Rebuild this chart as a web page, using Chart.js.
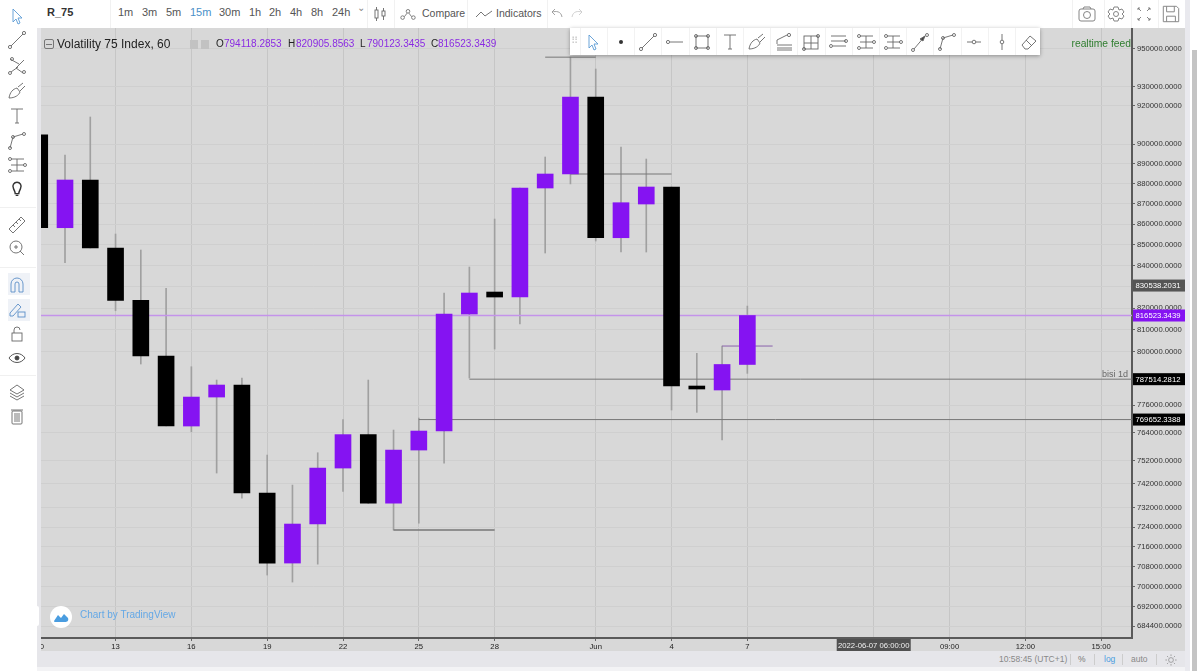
<!DOCTYPE html>
<html>
<head>
<meta charset="utf-8">
<title>R_75</title>
<script src="https://cdn.jsdelivr.net/npm/chart.js@4"></script>
<style>
  html, body { margin: 0; padding: 0; width: 1200px; height: 671px; overflow: hidden; background: #fff; font-family: "Liberation Sans", Arial, sans-serif; }
  .box { position: absolute; }
  .txt { position: absolute; white-space: nowrap; line-height: 1; }
  canvas { position: absolute; left: 41px; top: 28px; }
  svg { position: absolute; overflow: visible; }
</style>
</head>
<body>
<div class="box" style="left:37px;top:0;width:1148px;height:667px;background:#e6e6ea"></div>
<div class="box" style="left:37px;top:667px;width:1148px;height:4px;background:#f3f3f5"></div>
<div class="box" style="left:1185px;top:0;width:5px;height:671px;background:#e9e9ee"></div>
<div class="box" style="left:1192px;top:50px;width:5px;height:621px;background:#c4c4c4"></div>
<div class="box" style="left:37px;top:0;width:1148px;height:28px;background:#fff"></div>
<div class="box" style="left:41px;top:28px;width:1144px;height:623px;background:#d8d8d8"></div>
<canvas id="chart" width="1145" height="623"></canvas>
<div id="chrome"></div>

<script>
// candles, one per day starting 10 May (index 0)
const opens  = [904850, 858280, 881860, 848440, 823600, 797940, 766830, 779560, 784900, 738185, 709400, 725300, 748740, 763100, 734000, 756440, 764650, 817210, 827490, 825140, 877860, 884870, 924441, 853415, 869915, 878360, 784460, 782690, 794118];
const closes = [858280, 881860, 848440, 823600, 797940, 766830, 779560, 784900, 738185, 709400, 725300, 748740, 763100, 734000, 756440, 764650, 817210, 827020, 825140, 877860, 884870, 924441, 853415, 870560, 878360, 784460, 783130, 794118, 816523];
const highs  = [904850, 894470, 914000, 855210, 847470, 829230, 793100, 787130, 788030, 754290, 741545, 755280, 769650, 787130, 765080, 770320, 827020, 839325, 862530, 877860, 893460, 945692, 939267, 898550, 892440, 878360, 799160, 802480, 820905];
const lows   = [858280, 841380, 848440, 818740, 794320, 766830, 764300, 746620, 736090, 704580, 701780, 708960, 738850, 733800, 722830, 725650, 750870, 788030, 801120, 812580, 846030, 879900, 851820, 846510, 846510, 773830, 772815, 760750, 790123];

// price axis and time axis
const priceTicks = [950000, 930000, 920000, 900000, 890000, 880000, 870000, 860000, 850000, 840000, 830000, 820000, 810000, 800000, 776000, 764000, 752000, 742000, 732000, 724000, 716000, 708000, 700000, 692000, 684400];
const timeTicks  = [0, 3, 6, 9, 12, 15, 18, 22, 25, 28, 33, 36, 39, 42];
const timeLabels = ["10", "13", "16", "19", "22", "25", "28", "Jun", "4", "7", "", "09:00", "12:00", "15:00"];

// drawn levels: price, first bar, last bar
const lineLevels = [945600, 884870, 787514.2812, 769652.3388, 722830];
const lineStarts = [20, 21, 17, 15, 14];
const lineEnds   = [22, 25, 43.22, 43.22, 18];
const lastPrice = 816523.3439;
const openLevel = 802480;
const openLevelBars = [27, 29];

// price tags on the right axis
const tagValues = [830538.2031, 816523.3439, 787514.2812, 769652.3388];
const tagColors = ["#555555", "#8513f2", "#000000", "#000000"];

const crossIndex = 33;
const crossLabel = "2022-06-07 06:00:00";

const PURPLE = "#8513f2";
const AXIS_FONT = "'Liberation Sans', Arial, sans-serif";
const days = opens.map((v, i) => i);

const tagPlugin = {
    id: "tags",
    afterDraw(chart) {
        const ctx = chart.ctx;
        const y = chart.scales.y, x = chart.scales.x;
        ctx.save();
        ctx.textBaseline = "middle";
        ctx.font = "7.7px " + AXIS_FONT;
        tagValues.forEach((v, i) => {
            const py = y.getPixelForValue(v);
            ctx.fillStyle = tagColors[i];
            ctx.fillRect(y.left + 1, py - 6, 52, 12);
            ctx.fillStyle = "#fff";
            ctx.textAlign = "center";
            ctx.fillText(v.toFixed(4), y.left + 26, py + 0.5);
        });
        // crosshair label on time axis
        const cx = x.getPixelForValue(crossIndex);
        ctx.fillStyle = "#505050";
        ctx.fillRect(cx - 37, x.top + 1, 74, 13);
        ctx.fillStyle = "#f0f0f0";
        ctx.fillText(crossLabel, cx, x.top + 7.5);
        // label of the 1d level
        ctx.fillStyle = "#666";
        ctx.font = "9px " + AXIS_FONT;
        ctx.textAlign = "right";
        ctx.fillText("bisi 1d", y.left - 4, y.getPixelForValue(lineLevels[2]) - 5);
        ctx.fillStyle = "#2f7d2f";
        ctx.font = "10.3px " + AXIS_FONT;
        ctx.fillText("realtime feed", y.left - 1, 16);
        ctx.restore();
    }
};

const datasets = [];
// candle bodies on top of the drawn lines
datasets.push({
    type: "bar",
    label: "body",
    data: days.map(i => ({ x: i, y: [opens[i], closes[i]] })),
    backgroundColor: days.map(i => closes[i] > opens[i] ? PURPLE : "#000000"),
    barThickness: 16,
    grouped: false,
    order: 2
});
datasets.push({
    type: "bar",
    label: "wick",
    data: days.map(i => ({ x: i, y: [lows[i], highs[i]] })),
    backgroundColor: "#a0a0a0",
    barThickness: 1,
    grouped: false,
    order: 4
});
lineLevels.forEach((lvl, i) => {
    datasets.push({
        type: "line",
        data: [{ x: lineStarts[i], y: lvl }, { x: lineEnds[i], y: lvl }],
        borderColor: "#777777",
        borderWidth: i === 4 ? 1.5 : 1,
        pointRadius: 0,
        order: 3
    });
});
datasets.push({
    type: "line",
    data: [{ x: openLevelBars[0], y: openLevel }, { x: openLevelBars[1], y: openLevel }],
    borderColor: "#8a62ab",
    borderWidth: 1,
    pointRadius: 0,
    order: 3
});
datasets.push({
    type: "line",
    data: [{ x: 0.05, y: lastPrice }, { x: 43.22, y: lastPrice }],
    borderColor: "#c493ea",
    borderWidth: 1.5,
    pointRadius: 0,
    order: 3
});

new Chart(document.getElementById("chart"), {
    data: { datasets: datasets },
    plugins: [tagPlugin],
    options: {
        responsive: false,
        animation: false,
        devicePixelRatio: 1,
        layout: { padding: 0 },
        plugins: { legend: { display: false }, tooltip: { enabled: false } },
        scales: {
            x: {
                type: "linear",
                min: 0.05,
                max: 43.22,
                offset: false,
                grid: { offset: false, color: "#c6c6c6", tickColor: "#666", tickLength: 3, lineWidth: 1 },
                border: { color: "#5a5a5a", width: 2 },
                afterBuildTicks(axis) { axis.ticks = timeTicks.map(v => ({ value: v })); },
                // no extra room for the first and last label, the plot has to fill the canvas
                afterFit(axis) { axis.height = 13; axis.paddingLeft = 0; axis.paddingRight = 0; },
                ticks: {
                    autoSkip: false,
                    maxRotation: 0,
                    padding: 1,
                    color: "#222",
                    font: { size: 7.7, family: AXIS_FONT },
                    callback(v) { return timeLabels[timeTicks.indexOf(v)]; }
                }
            },
            y: {
                type: "logarithmic",
                position: "right",
                min: 679830,
                max: 961400,
                grid: { color: "#cfcfcf", tickColor: "#666", tickLength: 3, lineWidth: 1 },
                border: { color: "#5a5a5a", width: 2 },
                afterBuildTicks(axis) { axis.ticks = priceTicks.map(v => ({ value: v })); },
                afterFit(axis) { axis.width = 54; axis.paddingTop = 0; axis.paddingBottom = 0; },
                ticks: {
                    autoSkip: false,
                    padding: 2,
                    color: "#333",
                    font: { size: 7.7, family: AXIS_FONT },
                    callback(v) { return Number(v).toFixed(4); }
                }
            }
        }
    }
});

// ---- surrounding TradingView chrome ----
const chrome = document.getElementById("chrome");

function addText(s, x, y, size, color, weight) {
    const d = document.createElement("div");
    d.className = "txt";
    d.textContent = s;
    d.style.cssText = "left:" + x + "px;top:" + y + "px;font-size:" + size + "px;color:" + color + ";font-weight:" + (weight || "normal");
    chrome.appendChild(d);
}
function addBox(x, y, w, h, bg, extra) {
    const d = document.createElement("div");
    d.className = "box";
    d.style.cssText = "left:" + x + "px;top:" + y + "px;width:" + w + "px;height:" + h + "px;background:" + bg + ";" + (extra || "");
    chrome.appendChild(d);
}

const icons = {
    cursor: '<path d="M-4-7 L5 2 L1 2 L3 7 L1 8 L-1 3 L-4 6 Z"/>',
    line: '<path d="M-6 6 L6-6"/><circle cx="-7" cy="7" r="1.6"/><circle cx="7" cy="-7" r="1.6"/>',
    hline: '<path d="M-5 0 H8"/><circle cx="-7" cy="0" r="1.6"/>',
    rect: '<rect x="-6" y="-6" width="12" height="12"/><circle cx="-6" cy="-6" r="1.5"/><circle cx="6" cy="-6" r="1.5"/><circle cx="-6" cy="6" r="1.5"/><circle cx="6" cy="6" r="1.5"/>',
    text: '<path d="M-6-7 H6 M0-7 V7 M-2 7 H2"/>',
    brush: '<path d="M-8 7 C-7 1-4-2 0-3 L3 1 C2 4-2 7-8 7 Z M1-4 L6-8 M3 0 L8-5"/>',
    fib: '<path d="M-7 2 V-2 L3-7 M-7 3 H8 M-7 6 H8 M-7 8 H8"/><circle cx="5" cy="-7" r="1.6"/>',
    gann: '<rect x="-7" y="-6" width="14" height="13"/><path d="M0-6 V7 M-7 1 H7"/><circle cx="-7" cy="7" r="1.5"/><circle cx="7" cy="-6" r="1.5"/>',
    lines: '<path d="M-7-6 H8 M-7-1 H8 M-5 4 H8"/><circle cx="-7" cy="4" r="1.5"/><circle cx="8" cy="-1" r="1.5"/>',
    forecast: '<path d="M-6-6 H7 M0-6 V6 M-6 0 H7 M-5 6 H7"/><circle cx="-7" cy="-6" r="1.5"/><circle cx="-7" cy="6" r="1.5"/><circle cx="8" cy="0" r="1.5"/>',
    arrow: '<path d="M-6 7 L5-6"/><path d="M3-1 L5-6 L0-3 Z" fill="#444"/><circle cx="-7" cy="8" r="1.5"/><circle cx="7" cy="-7" r="1.5"/>',
    poly: '<path d="M-7 7 L-4-4 L6-7"/><circle cx="-7" cy="7" r="1.5"/><circle cx="-4" cy="-4" r="1.5"/><circle cx="7" cy="-7" r="1.5"/>',
    cross: '<path d="M-7 0 H-2 M2 0 H7"/><circle cx="0" cy="0" r="1.8"/>',
    vert: '<path d="M0-8 V-2 M0 2 V8"/><circle cx="0" cy="0" r="1.8"/>',
    eraser: '<path d="M-7 3 L1-6 L7-1 L-1 7 H-4 Z M-3-2 L3 4"/>',
    cross3: '<path d="M-7-7 L2-2 M7-6 L-1 2 L6 7 M-6 6 L1 1"/><circle cx="-7" cy="7" r="1.5"/><circle cx="-5" cy="-7" r="1.5"/><circle cx="7" cy="6" r="1.5"/>',
    bulb: '<path d="M-4-2 A4.5 4.5 0 1 1 4-2 C3 1 2 2 2 4 H-2 C-2 2-3 1-4-2 Z M-1.5 6 H1.5" stroke-width="1.6"/>',
    ruler: '<path d="M-8 4 L4-8 L8-4 L-4 8 Z M-4 0 L-2 2 M-1-3 L1-1 M2-6 L4-4"/>',
    zoom: '<circle cx="-1" cy="-1" r="6"/><path d="M3 3 L7 7 M-3-1 H1 M-1-3 V1"/>',
    magnet: '<path d="M-6 7 V-1 A6 6 0 0 1 6-1 V7 H2 V-1 A2 2 0 0 0-2-1 V7 Z"/>',
    penlock: '<path d="M-7 3 L1-6 L4-3 L-4 6 H-7 Z"/><rect x="1" y="2" width="7" height="5"/>',
    unlock: '<rect x="-5" y="-1" width="10" height="8"/><path d="M-3-1 V-4 A3 3 0 0 1 3-4"/>',
    eye: '<path d="M-8 0 C-4-6 4-6 8 0 C4 6-4 6-8 0 Z"/><circle cx="0" cy="0" r="2" fill="#444"/>',
    layers: '<path d="M0-7 L7-2 L0 2 L-7-2 Z M-7 1 L0 5 L7 1 M-7 4 L0 8 L7 4"/>',
    trash: '<rect x="-5" y="-6" width="10" height="13" rx="1"/><path d="M-6-7 H6 M-2-4 V5 M0-4 V5 M2-4 V5"/>',
    candles: '<rect x="-5" y="-4" width="3" height="8"/><rect x="2" y="-3" width="3" height="5"/><path d="M-3.5-7 V-4 M-3.5 4 V7 M3.5-6 V-3 M3.5 2 V6"/>',
    compare: '<circle cx="-6" cy="4" r="2"/><circle cx="0" cy="-3" r="2"/><circle cx="6" cy="4" r="2"/><path d="M-4 3 L-1-1 M4 3 L1-1"/>',
    wave: '<path d="M-8 3 L-3-2 L1 2 L8-3"/>',
    undo: '<path d="M5 4 C4-2-1-2-5-1 M-2-4 L-5-1 L-2 2"/>',
    redo: '<path d="M-5 4 C-4-2 1-2 5-1 M2-4 L5-1 L2 2"/>',
    camera: '<rect x="-8" y="-5" width="16" height="12" rx="2"/><circle cx="0" cy="1" r="3.5"/><path d="M-4-5 L-3-7 H3 L4-5"/>',
    gear: '<circle cx="0" cy="0" r="2.5"/><path d="M-2-7 H2 L3-4 L6-5 L8-2 L6 0 L8 2 L6 5 L3 4 L2 7 H-2 L-3 4 L-6 5 L-8 2 L-6 0 L-8-2 L-6-5 L-3-4 Z"/>',
    full: '<path d="M-6-6 L-3-3 M-6-6 H-4 M-6-6 V-4 M6-6 L3-3 M6-6 H4 M6-6 V-4 M-6 6 L-3 3 M-6 6 H-4 M-6 6 V4 M6 6 L3 3 M6 6 H4 M6 6 V4"/>',
    save: '<path d="M-7-7 H5 L7-5 V7 H-7 Z M-4-7 V-2 H3 V-7 M-4 7 V2 H4 V7"/>',
    sun: '<circle cx="0" cy="0" r="3"/><path d="M0-7 V-5 M0 5 V7 M-7 0 H-5 M5 0 H7 M-5-5 L-3.5-3.5 M3.5 3.5 L5 5 M-5 5 L-3.5 3.5 M3.5-3.5 L5-5"/>',
    cloud: '<path d="M-7 4 L-3-2 L0 1 L3-3 L7 1 C8 4 6 5 4 5 H-5 C-6 5-7 5-7 4 Z" fill="#4a9de0" stroke="none"/>'
};

function addIcon(name, x, y, color, scale) {
    const s = document.createElementNS("http://www.w3.org/2000/svg", "svg");
    s.setAttribute("width", "20");
    s.setAttribute("height", "20");
    s.style.left = (x - 10) + "px";
    s.style.top = (y - 10) + "px";
    s.innerHTML = '<g transform="translate(10 10) scale(' + (scale || 1) + ')" fill="none" stroke="' + (color || "#666") + '" stroke-width="0.9">' + icons[name] + "</g>";
    chrome.appendChild(s);
}

// left toolbar
addBox(8, 273, 22, 22, "#eff2f7");
addBox(8, 299, 22, 22, "#eff2f7");
[[207], [267], [375]].forEach(r => addBox(0, r[0], 36, 1, "#f0f0f0"));
addIcon("cursor", 17, 16, "#5b9bd5");
addIcon("line", 17, 40);
addIcon("cross3", 17, 66);
addIcon("brush", 17, 91);
addIcon("text", 17, 116);
addIcon("poly", 17, 141);
addIcon("forecast", 17, 165);
addIcon("bulb", 17, 190, "#333", 0.9);
addIcon("ruler", 17, 225);
addIcon("zoom", 17, 248);
addIcon("magnet", 17, 285, "#5b8fc7");
addIcon("penlock", 17, 310, "#5b8fc7");
addIcon("unlock", 17, 334);
addIcon("eye", 17, 358, "#444");
addIcon("layers", 17, 392);
addIcon("trash", 17, 417);

// top toolbar
addText("R_75", 47, 7, 11, "#333", "bold");
const intervals = [["1m", 118], ["3m", 142], ["5m", 166], ["15m", 190], ["30m", 219], ["1h", 249], ["2h", 269], ["4h", 290], ["8h", 311], ["24h", 332]];
intervals.forEach(p => addText(p[0], p[1], 7, 11, p[0] === "15m" ? "#4a90c8" : "#555"));
addText("⌄", 357, 3, 10, "#888");
[[110], [367], [394], [467], [547], [1072], [1104], [1131], [1158]].forEach(r => addBox(r[0], 0, 1, 28, "#f1f1f1"));
addIcon("candles", 380, 14);
addIcon("compare", 408, 14, "#666", 0.9);
addText("Compare", 422, 8, 10.5, "#555");
addIcon("wave", 484, 14);
addText("Indicators", 496, 8, 10.5, "#555");
addIcon("undo", 557, 13, "#999");
addIcon("redo", 577, 13, "#ccc");
addIcon("camera", 1087, 14, "#777");
addIcon("gear", 1116, 14, "#777");
addIcon("full", 1144, 14, "#777");
addIcon("save", 1171, 14, "#888", 1.1);

// legend row
addBox(44, 39, 10, 10, "none", "border:1px solid #777;border-radius:2px;box-sizing:border-box");
addBox(46, 44, 6, 1, "#777");
addText("Volatility 75 Index, 60", 57, 38, 12, "#222");
addBox(190, 40, 8, 9, "#c2c2c2");
addBox(201, 40, 8, 9, "#c2c2c2");
addText("O", 216, 39, 10, "#222");
addText("794118.2853", 224, 39, 10, "#8a2be2");
addText("H", 288, 39, 10, "#222");
addText("820905.8563", 296, 39, 10, "#8a2be2");
addText("L", 360, 39, 10, "#222");
addText("790123.3435", 367, 39, 10, "#8a2be2");
addText("C", 431, 39, 10, "#222");
addText("816523.3439", 438, 39, 10, "#8a2be2");

// floating drawing toolbar
addBox(570, 28, 470, 27, "#fff", "box-shadow:0 1px 4px rgba(0,0,0,0.35)");
for (let i = 0; i < 17; i++) addBox(607 + i * 27.2 - 27.2, 28, 1, 27, "#f2f2f2");
addText("⠿", 571, 36, 10, "#ccc");
addIcon("cursor", 593, 42, "#5b9bd5");
addBox(619, 40, 4, 4, "#333", "border-radius:2px");
const floatIcons = ["line", "hline", "rect", "text", "brush", "fib", "gann", "lines", "forecast", "forecast", "arrow", "poly", "cross", "vert", "eraser"];
floatIcons.forEach((n, i) => addIcon(n, 648 + i * 27.2, 42, "#666"));

// logo and status row
addBox(50, 606, 22, 22, "#fff", "border-radius:11px");
addIcon("cloud", 61, 617, "#4a9de0");
addText("Chart by TradingView", 80, 610, 10, "#64a8e6");
addBox(33, 606, 6, 20, "#fff", "border-radius:2px");
addText("10:58:45 (UTC+1)", 999, 655, 8.5, "#888");
addBox(1070, 654, 1, 11, "#ccc");
addText("%", 1078, 655, 8.5, "#777");
addBox(1094, 654, 1, 11, "#ccc");
addText("log", 1104, 655, 8.5, "#4a9de0");
addBox(1122, 654, 1, 11, "#ccc");
addText("auto", 1131, 655, 8.5, "#888");
addBox(1156, 654, 1, 11, "#ccc");
addIcon("sun", 1171, 660, "#888", 0.8);
</script>
</body>
</html>
